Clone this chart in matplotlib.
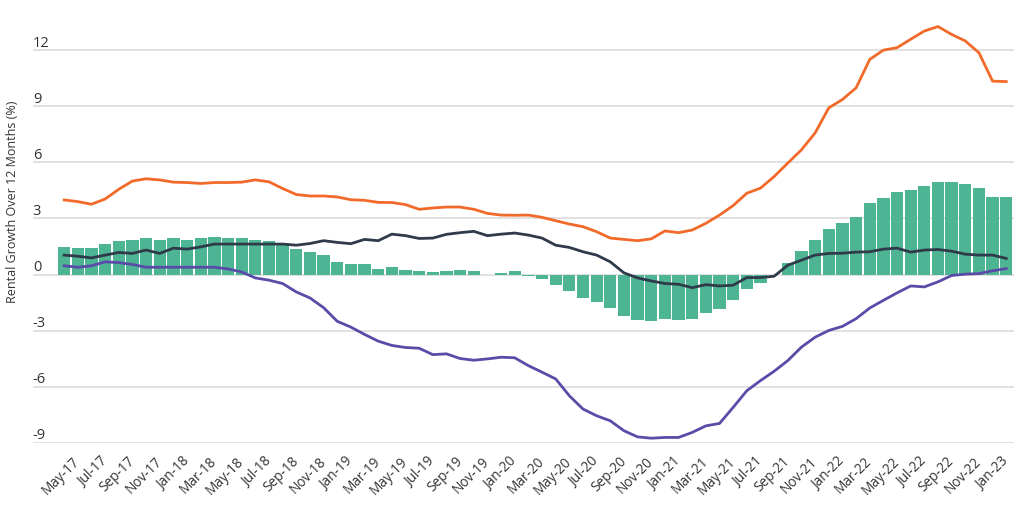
import matplotlib.pyplot as plt
import pandas as pd

plt.rcParams['font.family'] = ['Open Sans', 'DejaVu Sans']

# months Apr-17 .. Jan-23 (labels shown every second month from May-17)
months = pd.date_range('2017-04-01', '2023-01-01', freq='MS').strftime('%b-%y').tolist()

# --- green bars
bars = [1.48, 1.41, 1.41, 1.63, 1.79, 1.84, 1.93, 1.84, 1.93, 1.84,
        1.93, 2.00, 1.93, 1.93, 1.84, 1.79, 1.68, 1.36, 1.20, 1.04,
        0.68, 0.54, 0.54, 0.32, 0.39, 0.25, 0.18, 0.11, 0.18, 0.25,
        0.18, 0.00, 0.10, 0.18, -0.09, -0.25, -0.54, -0.89, -1.25, -1.48,
        -1.77, -2.20, -2.42, -2.50, -2.36, -2.42, -2.36, -2.06, -1.84, -1.34,
        -0.75, -0.47, -0.02, 0.61, 1.27, 1.84, 2.43, 2.74, 3.08, 3.83,
        4.10, 4.40, 4.54, 4.76, 4.97, 4.97, 4.83, 4.62, 4.17, 4.17]

# --- orange line
orange = [3.99, 3.90, 3.76, 4.04, 4.56, 5.00, 5.12, 5.06, 4.94, 4.92,
          4.87, 4.92, 4.92, 4.94, 5.06, 4.96, 4.60, 4.28, 4.20, 4.20,
          4.15, 4.00, 3.97, 3.86, 3.85, 3.74, 3.49, 3.56, 3.61, 3.61,
          3.49, 3.27, 3.18, 3.17, 3.18, 3.06, 2.88, 2.70, 2.56, 2.29,
          1.95, 1.88, 1.81, 1.91, 2.33, 2.24, 2.38, 2.74, 3.18, 3.69,
          4.35, 4.62, 5.24, 5.96, 6.67, 7.57, 8.91, 9.36, 9.98, 11.50,
          12.00, 12.13, 12.58, 13.02, 13.26, 12.84, 12.49, 11.86, 10.34, 10.32]

# --- dark line
dark = [1.04, 0.98, 0.89, 1.04, 1.18, 1.13, 1.31, 1.13, 1.41, 1.36,
        1.48, 1.63, 1.63, 1.63, 1.63, 1.63, 1.63, 1.57, 1.66, 1.81,
        1.72, 1.65, 1.88, 1.81, 2.16, 2.08, 1.93, 1.95, 2.15, 2.24,
        2.31, 2.08, 2.16, 2.22, 2.11, 1.95, 1.57, 1.45, 1.22, 1.04,
        0.68, 0.09, -0.18, -0.34, -0.48, -0.52, -0.70, -0.54, -0.61, -0.57,
        -0.16, -0.16, -0.09, 0.50, 0.77, 1.04, 1.13, 1.14, 1.20, 1.22,
        1.36, 1.41, 1.20, 1.31, 1.34, 1.25, 1.09, 1.04, 1.04, 0.86]

# --- purple line
purple = [0.47, 0.39, 0.47, 0.68, 0.64, 0.54, 0.39, 0.39, 0.39, 0.39,
          0.39, 0.39, 0.30, 0.14, -0.18, -0.30, -0.48, -0.93, -1.25, -1.77,
          -2.50, -2.81, -3.20, -3.56, -3.79, -3.90, -3.94, -4.28, -4.24, -4.49,
          -4.58, -4.51, -4.42, -4.45, -4.87, -5.22, -5.58, -6.48, -7.19, -7.55,
          -7.82, -8.35, -8.68, -8.75, -8.71, -8.71, -8.44, -8.09, -7.96, -7.10,
          -6.21, -5.67, -5.17, -4.60, -3.88, -3.35, -2.99, -2.77, -2.36, -1.79,
          -1.38, -0.98, -0.61, -0.66, -0.39, -0.05, 0.02, 0.05, 0.20, 0.32]

yticks = [-9, -6, -3, 0, 3, 6, 9, 12]

fig = plt.figure(figsize=(10.24, 5.12), dpi=100)
ax = fig.add_axes([0.032, 0.135, 0.958, 0.865])

x = range(len(months))
ax.bar(x, bars, width=0.9, color='#4db594', zorder=2)
ax.plot(x, orange, color='#f26a2a', lw=2, zorder=3)
ax.plot(x, dark, color='#2f3a4a', lw=2, zorder=4)
ax.plot(x, purple, color='#5b4ba8', lw=2, zorder=3)

ax.set_xlim(-2.3, 69.55)
ax.set_ylim(-9, 14.68)

# --- 横の目盛線とラベル（線の上に左寄せ）
ax.set_yticks(yticks)
ax.set_yticklabels([])
ax.tick_params(axis='y', length=0)
ax.grid(axis='y', color='#d9d9d9', lw=1.1, zorder=0)
ax.set_axisbelow(True)
for v in yticks:
    ax.annotate(str(v), xy=(0, v), xycoords=('axes fraction', 'data'),
                xytext=(0, 2.5), textcoords='offset points',
                ha='left', va='baseline', fontsize=10.5, color='#333333')

ticks = list(range(1, len(months), 2))
ax.set_xticks(ticks)
ax.set_xticklabels([months[i] for i in ticks], rotation=45, ha='right',
                   va='center', rotation_mode='anchor', fontsize=9.8, color='#333333')
ax.tick_params(axis='x', length=0, pad=12)

for s in ax.spines.values():
    s.set_visible(False)

fig.text(0.012, 0.605, 'Rental Growth Over 12 Months (%)', rotation=90,
         ha='center', va='center', fontsize=9, color='#333333')

plt.savefig('out.png', dpi=100)
